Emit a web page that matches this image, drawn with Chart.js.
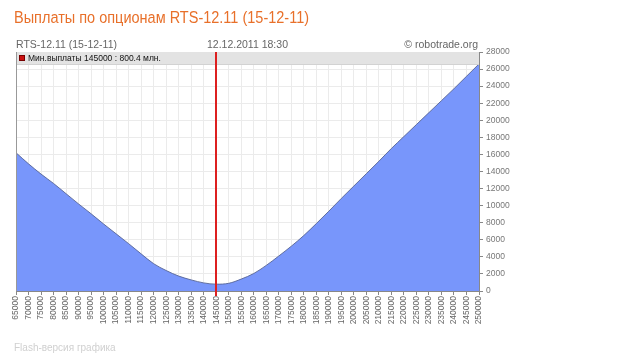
<!DOCTYPE html>
<html>
<head>
<meta charset="utf-8">
<script src="https://cdn.jsdelivr.net/npm/chart.js@4/dist/chart.umd.min.js"></script>
<style>
html,body{margin:0;padding:0;background:#fff;width:640px;height:360px;overflow:hidden;}
#wrap{position:relative;width:640px;height:360px;}
canvas{position:absolute;left:0;top:0;}
.t{position:absolute;white-space:nowrap;}
#title{left:14px;top:9px;font:14.5px "Liberation Sans",sans-serif;color:#e8702a;transform:scaleY(1.1);transform-origin:left top;}
.sub{top:38px;font:10.5px "Liberation Sans",sans-serif;color:#666;}
#foot{left:14px;top:342px;font:10px "Liberation Sans",sans-serif;color:#d0d0d0;}
</style>
</head>
<body>
<div id="wrap">
<canvas id="c" width="640" height="360"></canvas>
<div class="t" id="title">Выплаты по опционам RTS-12.11 (15-12-11)</div>
<div class="t sub" style="left:16px;">RTS-12.11 (15-12-11)</div>
<div class="t sub" style="left:207px;">12.12.2011 18:30</div>
<div class="t sub" style="right:162px;">© robotrade.org</div>
<div class="t" id="foot">Flash-версия графика</div>
</div>
<script>
const strikes = [65000,70000,75000,80000,85000,90000,95000,100000,105000,110000,115000,120000,125000,130000,135000,140000,145000,150000,155000,160000,165000,170000,175000,180000,185000,190000,195000,200000,205000,210000,215000,220000,225000,230000,235000,240000,245000,250000];
const payouts = [16200,14900,13700,12600,11400,10200,9050,7850,6700,5550,4350,3200,2400,1750,1300,950,800,900,1400,2050,3000,4100,5250,6500,7900,9350,10850,12300,13750,15200,16700,18100,19500,20900,22300,23700,25150,26600];
const minStrike = 145000;
const legendText = "Мин.выплаты 145000 : 800.4 млн.";

const overlay = {
  id:'overlay',
  afterDatasetsDraw(chart){
    const ctx = chart.ctx, a = chart.chartArea, xs = chart.scales.x;
    ctx.save();
    ctx.fillStyle = '#e3e3e3';
    ctx.fillRect(a.left, a.top, a.right - a.left, 12);
    ctx.strokeStyle = '#d2d2d2'; ctx.lineWidth = 1;
    ctx.beginPath(); ctx.moveTo(a.left, a.top + 12.5); ctx.lineTo(a.right, a.top + 12.5); ctx.stroke();
    const px = Math.round(xs.getPixelForValue(minStrike));
    ctx.strokeStyle = '#dd2020'; ctx.lineWidth = 2;
    ctx.beginPath(); ctx.moveTo(px, a.top); ctx.lineTo(px, a.bottom + 5); ctx.stroke();
    ctx.fillStyle = '#cc1111';
    ctx.fillRect(a.left + 3, a.top + 3, 6, 6);
    ctx.strokeStyle = '#770000'; ctx.lineWidth = 1;
    ctx.strokeRect(a.left + 3.5, a.top + 3.5, 5, 5);
    ctx.fillStyle = '#111';
    ctx.font = '8.5px "Liberation Sans", sans-serif';
    ctx.textBaseline = 'middle';
    ctx.fillText(legendText, a.left + 12, a.top + 6.5);
    ctx.strokeStyle = '#999'; ctx.lineWidth = 1;
    ctx.beginPath(); ctx.moveTo(a.left + 0.5, a.top); ctx.lineTo(a.left + 0.5, a.bottom); ctx.stroke();
    ctx.restore();
  }
};

new Chart(document.getElementById('c'), {
  type: 'line',
  data: {
    datasets: [{
      data: strikes.map((s, i) => ({x: s, y: payouts[i]})),
      borderColor: 'rgba(85,100,150,0.9)',
      borderWidth: 1,
      backgroundColor: '#7896fb',
      fill: 'origin',
      pointRadius: 0,
      cubicInterpolationMode: 'monotone'
    }]
  },
  options: {
    responsive: false,
    animation: false,
    layout: {padding: {left: 16, top: 52, right: 0, bottom: 0}},
    plugins: {legend: {display: false}, tooltip: {enabled: false}, title: {display: false}},
    scales: {
      x: {
        type: 'linear', min: 65000, max: 250000,
        afterBuildTicks(s){ s.ticks = strikes.map(v => ({value: v})); },
        afterFit(s){ s.height = 69; },
        grid: {color: '#ebebeb', tickLength: 4, tickColor: '#888'},
        border: {color: '#888'},
        ticks: {minRotation: 90, maxRotation: 90, autoSkip: false, padding: 1,
                font: {family: '"Liberation Sans", sans-serif', size: 8.5}, color: '#666',
                callback: v => String(v)}
      },
      y: {
        position: 'right', min: 0, max: 28000,
        afterFit(s){ s.width = 161; },
        grid: {color: '#ebebeb', tickLength: 4, tickColor: '#888'},
        border: {color: '#888'},
        ticks: {stepSize: 2000, padding: 3,
                font: {family: '"Liberation Sans", sans-serif', size: 8.5}, color: '#777',
                callback: v => String(v)}
      }
    }
  },
  plugins: [overlay]
});
</script>
</body>
</html>
